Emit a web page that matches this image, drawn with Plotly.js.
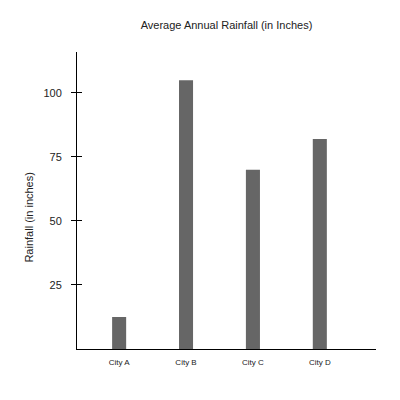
<!DOCTYPE html>
<html>
<head>
<meta charset="utf-8">
<script src="https://cdn.plot.ly/plotly-3.0.1.min.js"></script>
<style>
  body { margin: 0; background: #fff; }
  #chart { width: 400px; height: 400px; }
</style>
</head>
<body>
<div id="chart"></div>
<script>
// rainfall per city
var cities = ['City A', 'City B', 'City C', 'City D'];
var rainfall = [12.5, 105, 70, 82];
var yTicks = [25, 50, 75, 100];

var font = 'Liberation Sans, Arial, sans-serif';
var ink = '#222';

var bars = {
  x: cities,
  y: rainfall,
  type: 'bar',
  width: 0.21,
  marker: { color: '#666666' },
  hoverinfo: 'x+y'
};

// invisible copy on the second axis so the inside half of each tick shows
var ghost = {
  x: cities,
  y: rainfall,
  type: 'bar',
  yaxis: 'y2',
  width: 0.21,
  marker: { color: 'rgba(0,0,0,0)' },
  hoverinfo: 'skip'
};

var layout = {
  width: 400,
  height: 400,
  margin: { l: 77, r: 24, t: 52, b: 51 },
  paper_bgcolor: '#fff',
  plot_bgcolor: '#fff',
  showlegend: false,
  font: { family: font, color: ink },
  title: {
    text: 'Average Annual Rainfall (in Inches)',
    font: { family: font, size: 11, color: ink },
    x: 0.5, xref: 'paper',
    y: 0.9375, yref: 'container', yanchor: 'middle'
  },
  xaxis: {
    type: 'category',
    range: [-0.63, 3.84],
    showline: true,
    linecolor: '#000',
    linewidth: 1,
    ticks: '',
    ticklabelstandoff: 5,
    showgrid: false,
    zeroline: false,
    tickfont: { family: font, size: 8, color: ink }
  },
  yaxis: {
    range: [0, 116],
    tickvals: yTicks,
    ticks: 'outside',
    ticklen: 5,
    tickcolor: '#000',
    ticklabelstandoff: 7,
    showline: true,
    linecolor: '#000',
    linewidth: 1,
    showgrid: false,
    zeroline: false,
    tickfont: { family: font, size: 11, color: ink }
  },
  yaxis2: {
    overlaying: 'y',
    side: 'left',
    range: [0, 116],
    tickvals: yTicks,
    ticks: 'inside',
    ticklen: 5,
    tickcolor: '#000',
    showticklabels: false,
    showline: false,
    showgrid: false,
    zeroline: false
  },
  barmode: 'overlay',
  // axis title sits below the middle of the axis in the reference, so it is an annotation
  annotations: [{
    text: 'Rainfall (in inches)',
    textangle: -90,
    xref: 'paper', yref: 'paper',
    x: -0.162, y: 0.441,
    xanchor: 'center', yanchor: 'middle',
    showarrow: false,
    font: { family: font, size: 11, color: ink }
  }]
};

Plotly.newPlot('chart', [bars, ghost], layout, { displayModeBar: false, staticPlot: true });
</script>
</body>
</html>
